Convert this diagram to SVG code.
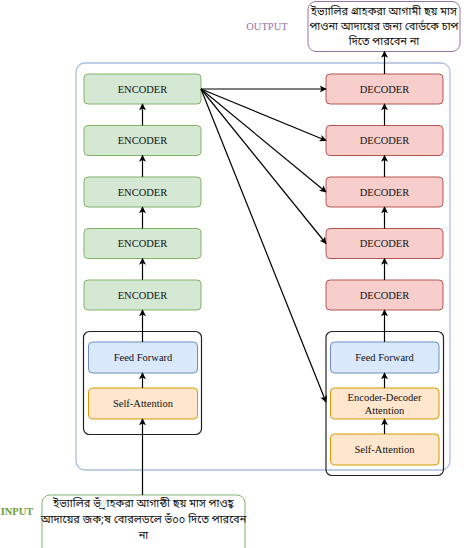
<svg xmlns="http://www.w3.org/2000/svg" width="464" height="548" viewBox="0 0 464 548">
<defs>
<marker id="ah" viewBox="0 0 10 10" refX="9" refY="5" markerWidth="7" markerHeight="7" orient="auto" markerUnits="userSpaceOnUse">
<path d="M0,0 L10,5 L0,10 L2.5,5 Z" fill="#000"/>
</marker>
<style>
.enc{fill:#d5e8d4;stroke:#82b366;stroke-width:1}
.dec{fill:#f8cecc;stroke:#b85450;stroke-width:1}
.ff{fill:#dae8fc;stroke:#6c8ebf;stroke-width:1}
.att{fill:#ffe6cc;stroke:#d79b00;stroke-width:1}
.blk{fill:none;stroke:#222;stroke-width:1.2}
.lbl{font-family:'Liberation Serif',serif;font-size:10.5px;fill:#111;text-anchor:middle;dominant-baseline:central}
.bn{font-family:'Noto Sans','Noto Sans Bengali',sans-serif;font-size:11px;fill:#111;text-anchor:middle}
.cn{stroke:#000;stroke-width:1.2;fill:none;marker-end:url(#ah)}
</style>
</defs>
<rect width="464" height="548" fill="#fff"/>
<rect id="container" x="76" y="63" width="374" height="407" rx="9" fill="none" stroke="#a9bfdc" stroke-width="1.3"/>

<g id="output">
<rect x="308" y="1.5" width="152" height="50" rx="8" fill="#fff" stroke="#9673a6" stroke-width="1"/>
<text class="bn" x="384" y="15">ইভ্যালির গ্রাহকরা আগামী ছয় মাস</text>
<text class="bn" x="384" y="30">পাওনা আদায়ের জন্য বোর্ডকে চাপ</text>
<text class="bn" x="384" y="45">দিতে পারবেন না</text>
</g>
<text id="output-label" x="267" y="26" style="font-family:'Liberation Serif',serif;font-size:10.5px;fill:#9673a6;text-anchor:middle;dominant-baseline:central">OUTPUT</text>

<g id="enc1"><rect class="enc" x="84" y="74" width="117" height="30" rx="4"/><text class="lbl" x="142.5" y="89">ENCODER</text></g>
<g id="enc2"><rect class="enc" x="84" y="125.5" width="117" height="30" rx="4"/><text class="lbl" x="142.5" y="140.5">ENCODER</text></g>
<g id="enc3"><rect class="enc" x="84" y="177" width="117" height="30" rx="4"/><text class="lbl" x="142.5" y="192">ENCODER</text></g>
<g id="enc4"><rect class="enc" x="84" y="228.5" width="117" height="30" rx="4"/><text class="lbl" x="142.5" y="243.5">ENCODER</text></g>
<g id="enc5"><rect class="enc" x="84" y="280" width="117" height="30" rx="4"/><text class="lbl" x="142.5" y="295">ENCODER</text></g>

<g id="dec1"><rect class="dec" x="326" y="74" width="117" height="30" rx="4"/><text class="lbl" x="384.5" y="89">DECODER</text></g>
<g id="dec2"><rect class="dec" x="326" y="125.5" width="117" height="30" rx="4"/><text class="lbl" x="384.5" y="140.5">DECODER</text></g>
<g id="dec3"><rect class="dec" x="326" y="177" width="117" height="30" rx="4"/><text class="lbl" x="384.5" y="192">DECODER</text></g>
<g id="dec4"><rect class="dec" x="326" y="228.5" width="117" height="30" rx="4"/><text class="lbl" x="384.5" y="243.5">DECODER</text></g>
<g id="dec5"><rect class="dec" x="326" y="280" width="117" height="30" rx="4"/><text class="lbl" x="384.5" y="295">DECODER</text></g>

<g id="enc-block">
<rect class="blk" x="83.5" y="331.5" width="118" height="103" rx="6"/>
</g>
<g id="enc-ff"><rect class="ff" x="88.5" y="342" width="109" height="31" rx="4"/><text class="lbl" x="143" y="357.5">Feed Forward</text></g>
<g id="enc-sa"><rect class="att" x="88.5" y="388" width="109" height="31" rx="4"/><text class="lbl" x="143" y="403.5">Self-Attention</text></g>

<g id="dec-block">
<rect class="blk" x="326" y="331.5" width="117.5" height="144" rx="6"/>
</g>
<g id="dec-ff"><rect class="ff" x="330.5" y="342" width="108.5" height="31" rx="4"/><text class="lbl" x="384.5" y="357.5">Feed Forward</text></g>
<g id="dec-eda"><rect class="att" x="330.5" y="388" width="108.5" height="31" rx="4"/><text class="lbl" x="384.5" y="397">Encoder-Decoder</text><text class="lbl" x="384.5" y="410">Attention</text></g>
<g id="dec-sa"><rect class="att" x="330.5" y="434" width="108.5" height="31" rx="4"/><text class="lbl" x="384.5" y="449.5">Self-Attention</text></g>

<g id="input">
<rect x="42" y="495" width="203" height="62" rx="8" fill="#fff" stroke="#82b366" stroke-width="1"/>
<text class="bn" x="143.5" y="507">ইভ্যালির ভঁ্রাহকরা আগান্ঠী ছয় মাস পাওহ্ব</text>
<text class="bn" x="143.5" y="523">আদায়ের জক;ষ বোরলডলে ভঁ০০ দিতে পারবেন</text>
<text class="bn" x="143.5" y="539">না</text>
</g>
<text id="input-label" x="17" y="511" style="font-family:'Liberation Serif',serif;font-size:10.5px;font-weight:bold;fill:#6d9c3c;text-anchor:middle;dominant-baseline:central">INPUT</text>

<g id="connectors">
<line class="cn" x1="142.5" y1="495" x2="142.5" y2="419"/>
<line class="cn" x1="142.5" y1="388" x2="142.5" y2="373"/>
<line class="cn" x1="142.5" y1="342" x2="142.5" y2="310"/>
<line class="cn" x1="142.5" y1="280" x2="142.5" y2="258.5"/>
<line class="cn" x1="142.5" y1="228.5" x2="142.5" y2="207"/>
<line class="cn" x1="142.5" y1="177" x2="142.5" y2="155.5"/>
<line class="cn" x1="142.5" y1="125.5" x2="142.5" y2="104"/>

<line class="cn" x1="384.5" y1="434" x2="384.5" y2="419"/>
<line class="cn" x1="384.5" y1="388" x2="384.5" y2="373"/>
<line class="cn" x1="384.5" y1="342" x2="384.5" y2="310"/>
<line class="cn" x1="384.5" y1="280" x2="384.5" y2="258.5"/>
<line class="cn" x1="384.5" y1="228.5" x2="384.5" y2="207"/>
<line class="cn" x1="384.5" y1="177" x2="384.5" y2="155.5"/>
<line class="cn" x1="384.5" y1="125.5" x2="384.5" y2="104"/>
<line class="cn" x1="384.5" y1="74" x2="384.5" y2="51.5"/>

<line class="cn" x1="201" y1="89" x2="326" y2="89"/>
<line class="cn" x1="201" y1="89" x2="326" y2="140.5"/>
<line class="cn" x1="201" y1="89" x2="326" y2="192"/>
<line class="cn" x1="201" y1="89" x2="326" y2="243.5"/>
<line class="cn" x1="201" y1="89" x2="326" y2="402"/>
</g>
</svg>
